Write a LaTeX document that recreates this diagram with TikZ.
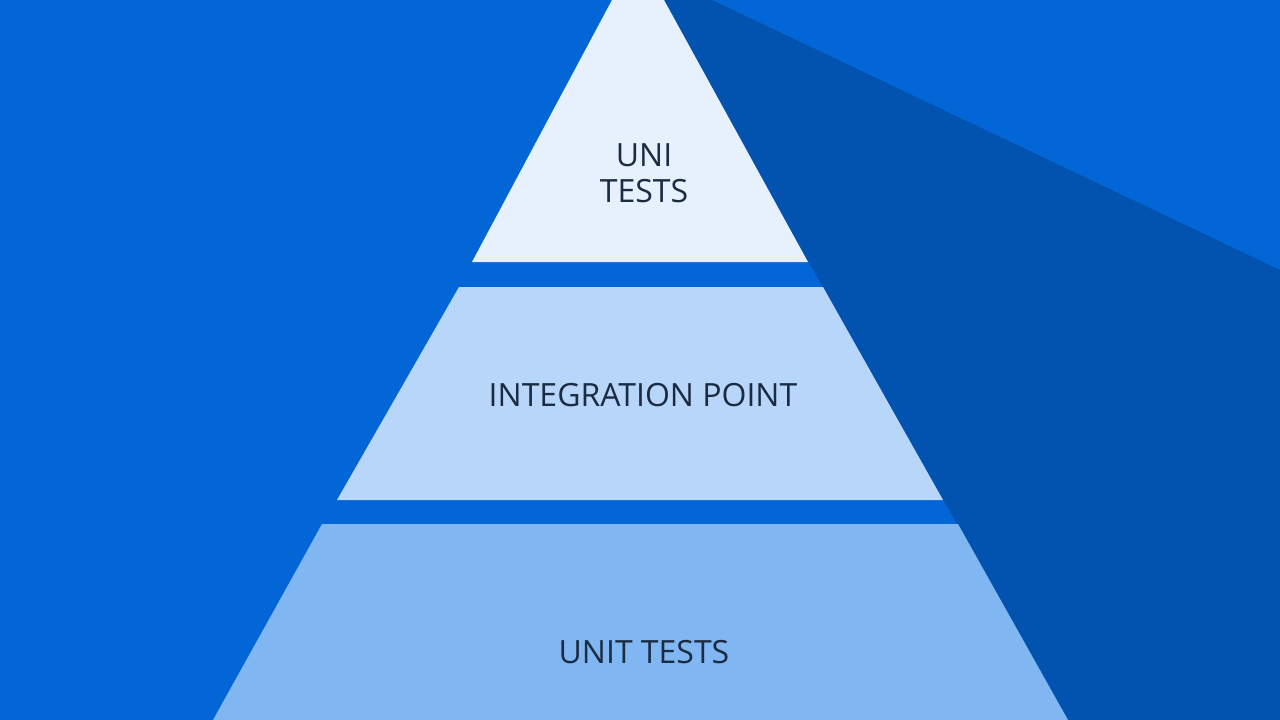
\documentclass[tikz,border=0pt]{standalone}
\usepackage{fontspec}
\setmainfont{Open Sans}
\definecolor{bg}{HTML}{0366D6}
\definecolor{shadowc}{HTML}{0252B0}
\definecolor{t1}{HTML}{E6F1FD}
\definecolor{t2}{HTML}{B7D6FA}
\definecolor{t3}{HTML}{80B6F2}
\definecolor{txt}{HTML}{1A2B42}
\tikzset{lbl/.style={text=txt,font=\fontsize{32}{38}\selectfont,align=center}}
\begin{document}
\begin{tikzpicture}[x=1pt,y=-1pt]
\fill[bg] (0,0) rectangle (1280,720);
\useasboundingbox (0,0) rectangle (1280,720);
\fill[shadowc] (660,0) -- (712,0) -- (1280,270) -- (1280,720) -- (1068,720) -- cycle;
\fill[t1] (612,0) -- (664,0) -- (808,262) -- (472,262) -- cycle;
\fill[t2] (459,287) -- (823,287) -- (943,500) -- (337,500) -- cycle;
\fill[t3] (322,524) -- (958,524) -- (1068,720) -- (213,720) -- cycle;
\node[lbl] (a) at (644,173) {UNI\\[-2pt]TESTS};
\node[lbl] (b) at (643,395) {INTEGRATION POINT};
\node[lbl] (c) at (644,652) {UNIT TESTS};
\end{tikzpicture}
\end{document}
